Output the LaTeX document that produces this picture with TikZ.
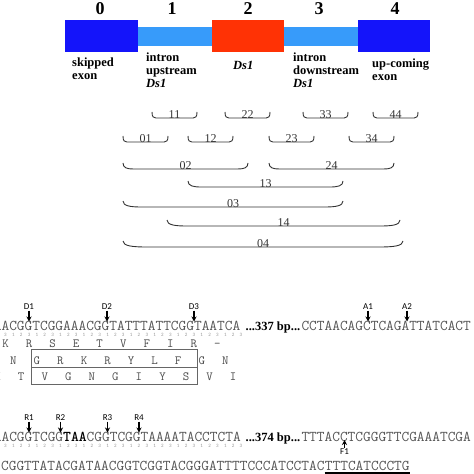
\documentclass[tikz,border=0pt]{standalone}
\usepackage{fontspec}
\setmainfont{Liberation Serif}
\setsansfont{Carlito}
\usetikzlibrary{arrows.meta}

\definecolor{exonblue}{RGB}{20,20,250}
\definecolor{intronblue}{RGB}{55,155,250}
\definecolor{dsred}{RGB}{255,50,5}
\definecolor{seqgray}{RGB}{85,85,85}

\begin{document}
\begin{tikzpicture}[x=1bp,y=-1bp,
  exon/.style={fill=exonblue,minimum width=73bp,minimum height=32bp,inner sep=0},
  intron/.style={fill=intronblue,minimum width=74bp,minimum height=19bp,inner sep=0},
  dsblock/.style={fill=dsred,minimum width=72bp,minimum height=32bp,inner sep=0},
  regnum/.style={font=\fontsize{18bp}{18bp}\selectfont\bfseries,inner sep=0,anchor=base},
  regname/.style={font=\fontsize{12.5bp}{13bp}\selectfont\bfseries,align=left,
    inner sep=0,anchor=base west},
  brace/.style={draw=black!80,line width=0.9bp},
  fragname/.style={font=\fontsize{12bp}{12bp}\selectfont,text=black!80,inner sep=0,anchor=base},
  seq/.style={font=\fontsize{14.95bp}{15bp}\selectfont\ttfamily,text=seqgray,
    inner sep=0,anchor=base west},
  gap/.style={font=\fontsize{12.5bp}{12.5bp}\selectfont\bfseries,inner sep=0,anchor=base},
  frame/.style={font=\fontsize{5bp}{5bp}\selectfont\sffamily,text=black!40,inner sep=0},
  amino/.style={font=\fontsize{12.5bp}{12.5bp}\selectfont\ttfamily,text=black!70,
    inner sep=0,anchor=base},
  orfbox/.style={draw=black!60,line width=0.8bp},
  site/.style={font=\fontsize{9bp}{9bp}\selectfont\sffamily,inner sep=0.5bp},
  sitearrow/.style={-{Stealth[length=5bp,width=5bp]},line width=1.2bp}]

  \useasboundingbox (0,0) rectangle (474,474);
  \clip (0,0) rectangle (474,474);

  % gene regions
  \node[exon] (reg0) at (101.5,36) {};
  \node[intron] (reg1) at (175,36.5) {};
  \node[dsblock] (reg2) at (248,36) {};
  \node[intron] (reg3) at (321,36.5) {};
  \node[exon,minimum width=72bp] (reg4) at (394,36) {};

  \node[regnum] (num0) at (100,15) {0};
  \node[regnum] (num1) at (172,15) {1};
  \node[regnum] (num2) at (248,15) {2};
  \node[regnum] (num3) at (319,15) {3};
  \node[regnum] (num4) at (395,15) {4};

  % base anchor sits on the last line
  \node[regname] (name0) at (72,80) {skipped\\exon};
  \node[regname] (name1) at (146,88) {intron\\upstream\\\textit{Ds1}};
  \node[regname] (name2) at (233,69.5) {\textit{Ds1}};
  \node[regname] (name3) at (293,88) {intron\\downstream\\\textit{Ds1}};
  \node[regname] (name4) at (372,81) {up-coming\\exon};

  % amplified fragments
  \foreach \a/\b/\h/\t in {152/197/118/11, 225/270/118/22, 303/348/118/33, 373/418/118/44,
      123/168/142/01, 188/233/142/12, 269/314/142/23, 349/394/142/34,
      123/248/169/02, 269/394/169/24, 188/343/187/13, 123/343/207/03,
      167/400/226/14, 123/403/247/04}{
    \pgfmathsetmacro\c{0.085*(\b-\a)}
    \draw[brace] (\a,\h-6) .. controls (\a,\h-1) and (\a+0.4*\c,\h) .. (\a+\c,\h)
      -- (\b-\c,\h) .. controls (\b-0.4*\c,\h) and (\b,\h-1) .. (\b,\h-6);
    \node[fragname] (frag\t) at ({(\a+\b)/2},\h+0.5) {\t};
  }

  % splice donor / acceptor sequence
  \node[seq] (seqa) at (-6.3,330) {AACGGTCGGAAACGGTATTTATTCGGTAATCA};
  \node[gap] (gapa) at (273,330) {...337 bp...};
  \node[seq] (seqb) at (301.3,330) {CCTAACAGCTCAGATTATCACT};
  \foreach \i in {0,...,31}{
    \pgfmathtruncatemacro\fr{mod(\i+1,3)+1}
    \node[frame] (fa\i) at ({-6.3+(\i+0.5)*7.85},335) {\fr};
  }
  \foreach \aa [count=\k from 0] in {K,R,S,E,T,V,F,I,R,-}
    \node[amino] (ra\k) at ({-6.3+(3*\k+1.5)*7.85},347) {\aa};
  \foreach \aa [count=\k from 0] in {N,G,R,K,R,Y,L,F,G,N}
    \node[amino] (rb\k) at ({-6.3+(3*\k+2.5)*7.85},364) {\aa};
  \foreach \aa [count=\k from 0] in {K,T,V,G,N,G,I,Y,S,V,I}
    \node[amino] (rc\k) at ({-6.3+(3*\k+0.5)*7.85},380.5) {\aa};
  \draw[orfbox] (31,349) rectangle (197,367);
  \draw[orfbox] (31,367) rectangle (197,384);

  \node[site] (d1) at (29,307) {D1};
  \node[site] (d2) at (107,307) {D2};
  \node[site] (d3) at (194,307) {D3};
  \node[site] (a1) at (368,307) {A1};
  \node[site] (a2) at (407,307) {A2};
  \foreach \s/\x in {d1/29,d2/107,d3/194,a1/368,a2/407}{
    \coordinate (\s tip) at (\x,321.5);
    \draw[sitearrow] (\s) -- (\s tip);
  }

  % second sequence
  \node[seq] (seqc) at (-6.3,441) {AACGGTCGG\textbf{\textcolor{black}{TAA}}CGGTCGGTAAAATACCTCTA};
  \node[gap] (gapc) at (273,441) {...374 bp...};
  \node[seq] (seqd) at (301.3,441) {TTTACCTCGGGTTCGAAATCGA};
  \foreach \i in {0,...,31}{
    \pgfmathtruncatemacro\fr{mod(\i+1,3)+1}
    \node[frame] (fc\i) at ({-6.3+(\i+0.5)*7.85},446) {\fr};
  }

  \node[site] (r1) at (29,418) {R1};
  \node[site] (r2) at (60.5,418) {R2};
  \node[site] (r3) at (107.5,418) {R3};
  \node[site] (r4) at (139,418) {R4};
  \foreach \s/\x in {r1/29,r2/60.5,r3/107.5,r4/139}{
    \coordinate (\s tip) at (\x,432.5);
    \draw[sitearrow] (\s) -- (\s tip);
  }
  \node[site] (f1) at (344.5,452) {F1};
  \coordinate (f1tip) at (344.5,440);
  \draw[sitearrow] (f1) -- (f1tip);

  \node[seq] (seqe) at (0.95,470.5) {CGGTTATACGATAACGGTCGGTACGGGATTTTCCCATCCTAC};
  \node[seq] (seqf) at (seqe.base east) {TTTCATCCCTG};
  \draw[line width=2bp] ([yshift=-2.2bp]seqf.south west) -- ([yshift=-2.2bp]seqf.south east);
\end{tikzpicture}
\end{document}
